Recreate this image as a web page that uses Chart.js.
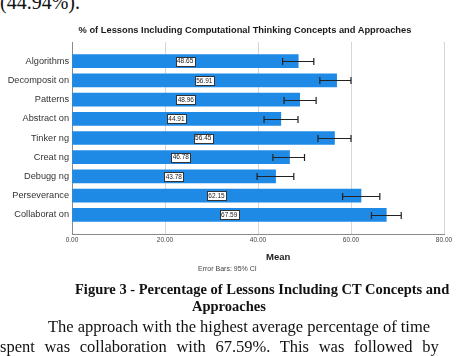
<!DOCTYPE html>
<html>
<head>
<meta charset="utf-8">
<script src="https://cdn.jsdelivr.net/npm/chart.js@4.4.0/dist/chart.umd.min.js"></script>
<style>
  html, body { margin: 0; padding: 0; background: #fff; overflow: hidden; }
  body { width: 474px; height: 356px; position: relative; }
  #wrap { position: absolute; left: 0; top: 0; width: 474px; height: 280px; }
  .t { position: absolute; white-space: nowrap; color: #111; }
  .serif { font-family: "Liberation Serif", "DejaVu Serif", serif; }
  .sans { font-family: "Liberation Sans", Arial, sans-serif; }
</style>
</head>
<body>
<div class="t serif" style="left:0px; top:-9px; font-size:20px; line-height:22px;">(44.94%).</div>
<div id="wrap"><canvas id="c" width="474" height="280"></canvas></div>
<div class="t sans" style="left:78px; width:334px; top:25px; font-size:9.3px; font-weight:bold; color:#1a1a1a; text-align:center;">% of Lessons Including Computational Thinking Concepts and Approaches</div>
<div class="t sans" style="left:266px; top:251px; font-size:9.5px; font-weight:bold; color:#222;">Mean</div>
<div class="t sans" style="left:198px; top:265px; font-size:7px; color:#444;">Error Bars: 95% CI</div>
<div class="t serif" style="left:75px; top:281px; font-size:14.5px; font-weight:bold; line-height:17px;">Figure 3 - Percentage of Lessons Including CT Concepts and</div>
<div class="t serif" style="left:192px; top:298px; font-size:14.5px; font-weight:bold; line-height:17px;">Approaches</div>
<div class="t serif" style="left:48px; top:317px; font-size:16.5px; line-height:20px;">The approach with the highest average percentage of time</div>
<div class="t serif" style="left:0px; top:337px; font-size:16.5px; line-height:20px; word-spacing:5.5px;">spent was collaboration with 67.59%. This was followed by</div>
<script>
const categories = ["Algorithms","Decomposition","Patterns","Abstraction","Tinkering","Creating","Debugging","Perseverance","Collaboration"];
const displayLabels = ["Algorithms","Decomposit on","Patterns","Abstract on","Tinker ng","Creat ng","Debugg ng","Perseverance","Collaborat on"];
const means = [48.65, 56.91, 48.96, 44.91, 56.45, 46.78, 43.78, 62.15, 67.59];
const ciLow = [45.3, 53.3, 45.6, 41.3, 52.9, 43.2, 39.8, 58.2, 64.4];
const ciHigh = [52.0, 60.0, 52.5, 48.6, 60.0, 50.0, 47.7, 66.2, 70.8];
const xTicks = [0, 20, 40, 60, 80];

const points = means.map((v, i) => ({ x: v, y: i + 1 }));

const errorBars = {
  id: 'errorBars',
  afterDatasetsDraw(chart) {
    const ctx = chart.ctx, xs = chart.scales.x, ys = chart.scales.y;
    ctx.save();
    ctx.strokeStyle = '#222';
    ctx.lineWidth = 1.2;
    categories.forEach((c, i) => {
      const y = Math.round(ys.getPixelForValue(i + 1)) + 0.5;
      const x1 = xs.getPixelForValue(ciLow[i]);
      const x2 = xs.getPixelForValue(ciHigh[i]);
      ctx.beginPath();
      ctx.moveTo(x1, y); ctx.lineTo(x2, y);
      ctx.moveTo(x1, y - 3.5); ctx.lineTo(x1, y + 3.5);
      ctx.moveTo(x2, y - 3.5); ctx.lineTo(x2, y + 3.5);
      ctx.stroke();
    });
    ctx.font = '6.5px "Liberation Sans", Arial, sans-serif';
    ctx.textAlign = 'center';
    ctx.textBaseline = 'middle';
    means.forEach((v, i) => {
      const y = ys.getPixelForValue(i + 1);
      const x = xs.getPixelForValue(v / 2);
      const txt = v.toFixed(2);
      const w = Math.round(ctx.measureText(txt).width + 3);
      const h = 9;
      const bx = Math.round(x - w / 2) + 0.5, by = Math.round(y - h / 2) + 0.5;
      ctx.fillStyle = '#fff';
      ctx.fillRect(bx, by, w, h);
      ctx.strokeStyle = '#333';
      ctx.lineWidth = 1;
      ctx.strokeRect(bx, by, w, h);
      ctx.fillStyle = '#222';
      ctx.fillText(txt, x, y + 0.5);
    });
    ctx.restore();
  }
};

new Chart(document.getElementById('c'), {
  type: 'bar',
  data: {
    datasets: [{
      data: points,
      backgroundColor: '#1f8ae6',
      borderWidth: 0,
      barThickness: 13
    }]
  },
  options: {
    indexAxis: 'y',
    responsive: false,
    animation: false,
    layout: { padding: { left: 0, right: 30, top: 42, bottom: 0 } },
    plugins: {
      legend: { display: false },
      tooltip: { enabled: false },
      title: { display: false }
    },
    scales: {
      x: {
        type: 'linear',
        min: 0, max: 80,
        afterFit(s) { s.height = 46; },
        afterBuildTicks(s) { s.ticks = xTicks.map(v => ({ value: v })); },
        ticks: {
          callback: v => Number(v).toFixed(2),
          color: '#444',
          padding: 2,
          maxRotation: 0,
          font: { family: '"Liberation Sans", Arial, sans-serif', size: 6.5 }
        },
        grid: { color: '#d6d6d6', lineWidth: 1, drawTicks: false },
        border: { display: true, color: '#8a8a8a', width: 1 }
      },
      y: {
        type: 'linear',
        reverse: true,
        offset: false,
        min: 0, max: 10,
        afterFit(s) { s.width = 72; },
        afterBuildTicks(s) { s.ticks = categories.map((c, i) => ({ value: i + 1 })); },
        ticks: {
          callback: v => displayLabels[v - 1] || '',
          color: '#333',
          padding: 3,
          autoSkip: false,
          font: { family: '"Liberation Sans", Arial, sans-serif', size: 9.2 }
        },
        grid: { display: false, offset: false, drawTicks: false },
        border: { display: true, color: '#8a8a8a', width: 1 }
      }
    }
  },
  plugins: [errorBars]
});
</script>
</body>
</html>
